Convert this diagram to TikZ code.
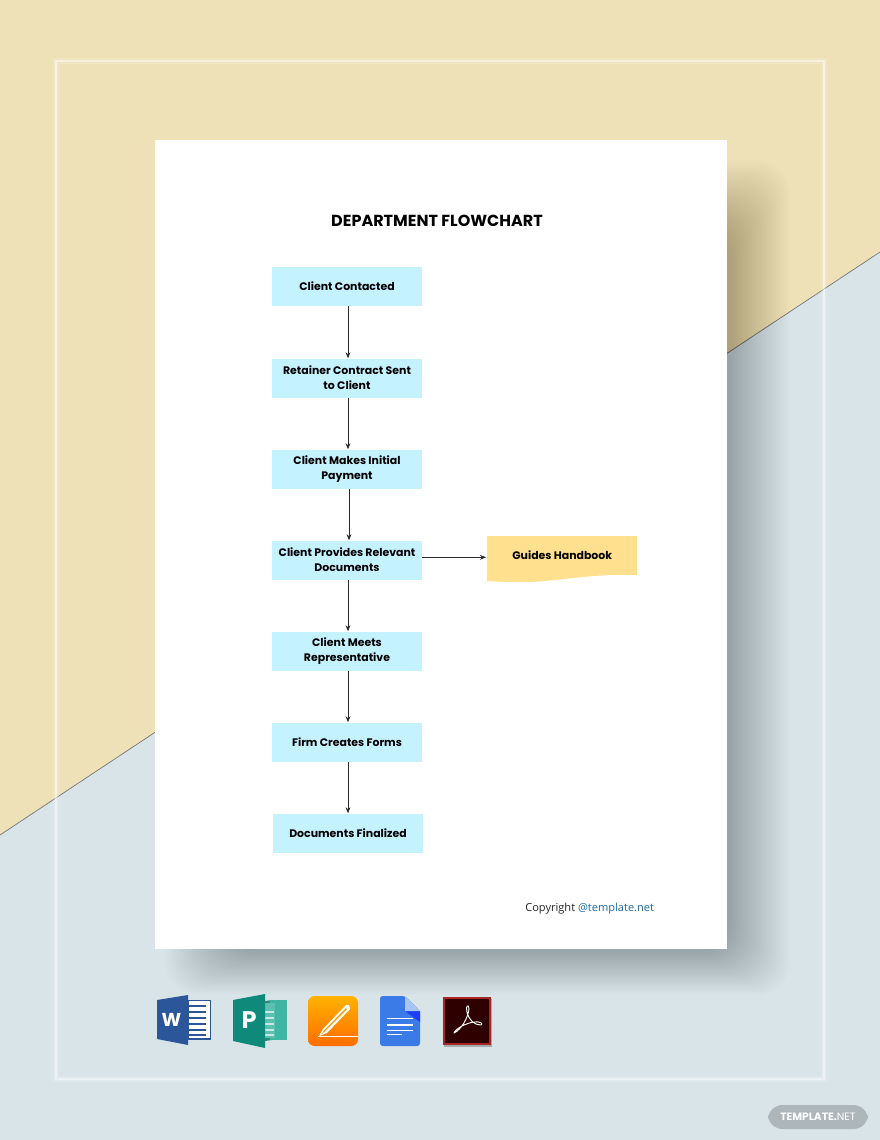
\documentclass[tikz,border=0pt]{standalone}
\usepackage{fontspec}
\setmainfont{Poppins}
\newfontfamily\copyfont{Open Sans}
\usetikzlibrary{arrows.meta}
\definecolor{tanbg}{HTML}{EEE1B8}
\definecolor{bluebg}{HTML}{D9E4E9}
\definecolor{stepblue}{HTML}{C5F2FF}
\definecolor{noteyellow}{HTML}{FFE08F}
\definecolor{arrowgrey}{HTML}{2B2B2B}
\definecolor{wordblue}{HTML}{2B579A}
\definecolor{pubteal}{HTML}{0F8A7A}
\definecolor{publight}{HTML}{3FB5A3}
\definecolor{docblue}{HTML}{3B7BE8}
\tikzset{
  stepbox/.style={fill=stepblue,draw=none,minimum width=112.5pt,minimum height=29.25pt,inner sep=0pt,align=center,
    font=\fontsize{8.2pt}{11.4pt}\selectfont\bfseries,text=black},
  flowarrow/.style={draw=arrowgrey,line width=0.55pt,-{Stealth[length=4.5pt,width=3.6pt]}},
  iconline/.style={line width=1.1pt,draw=white},
}
\begin{document}
\begin{tikzpicture}[x=0.75pt,y=-0.75pt]
\useasboundingbox (0,0) rectangle (880,1140);
\begin{scope}
\clip (0,0) rectangle (880,1140);
% background
\fill[bluebg] (0,0) rectangle (880,1140);
\fill[tanbg] (0,0) -- (880,0) -- (880,252) -- (0,835) -- cycle;
\draw[black!55,line width=0.5pt] (0,835) -- (880,252);
% soft shadow of the page
\foreach \i in {0,...,31}{
  \fill[black,opacity=0.0072,rounded corners=24pt]
    ({165+\i*2},{160+\i*2.2}) rectangle ({790-\i*1.9},{995-\i*1.4});
}
% frame
\draw[white,opacity=0.18,line width=4.2pt] (56,61) rectangle (824,1079);
\draw[white,opacity=0.45,line width=2.2pt] (56,61) rectangle (824,1079);
% page
\fill[white] (155,140) rectangle (727,949);
\end{scope}
% title
\node[font=\fontsize{12pt}{15pt}\selectfont\bfseries,text=black,inner sep=0pt] (title) at (437,220.5) {DEPARTMENT FLOWCHART};
% steps
\node[stepbox] (s1) at (347,286.5) {Client Contacted};
\node[stepbox] (s2) at (347,378) {Retainer Contract Sent\\to Client};
\node[stepbox] (s3) at (347,469) {Client Makes Initial\\Payment};
\node[stepbox] (s4) at (347,560) {Client Provides Relevant\\Documents};
\node[stepbox] (s5) at (347,651) {Client Meets\\Representative};
\node[stepbox] (s6) at (347,742) {Firm Creates Forms};
\node[stepbox] (s7) at (348,833) {Documents Finalized};
% note
\fill[noteyellow] (487,536) -- (637,536) -- (637,575)
  .. controls (600,574) and (575,578) .. (545,581)
  .. controls (525,583) and (505,582) .. (487,581) -- cycle;
\node[font=\fontsize{8.2pt}{11pt}\selectfont\bfseries,text=black,minimum width=112.5pt,minimum height=30pt,inner sep=0pt,
  anchor=west] (note) at (487,555) {Guides Handbook};
% connectors
\draw[flowarrow] ([xshift=0.75pt]s1.south) -- ([xshift=0.75pt]s2.north);
\draw[flowarrow] ([xshift=0.75pt]s2.south) -- ([xshift=0.75pt]s3.north);
\draw[flowarrow] ([xshift=1.5pt]s3.south) -- ([xshift=1.5pt]s4.north);
\draw[flowarrow] ([xshift=0.75pt]s4.south) -- ([xshift=0.75pt]s5.north);
\draw[flowarrow] ([xshift=0.75pt]s5.south) -- ([xshift=0.75pt]s6.north);
\draw[flowarrow] ([xshift=0.75pt]s6.south) -- (s7.north);
\draw[flowarrow,shorten >=0.75pt] ([yshift=2pt]s4.east) -- ([yshift=-1.75pt]note.west);
% copyright
\node[font=\copyfont\fontsize{8.3pt}{10pt}\selectfont,inner sep=0pt,anchor=west,text=black!85] (copy) at (525,909)
  {Copyright \textcolor[HTML]{1E6BA8}{@template.net}};
% Word icon
\draw[wordblue,fill=white,line width=1pt] (188,1000.5) rectangle (210.5,1039);
\foreach \y in {1006,1012,1018,1024,1030,1035}{\draw[wordblue,line width=1.2pt] (188,\y) -- (206,\y);}
\fill[wordblue] (157,1000) -- (188,995) -- (188,1045) -- (157,1039) -- cycle;
\node[font=\fontsize{14pt}{14pt}\selectfont\bfseries,text=white,inner sep=0pt] (wicon) at (171.5,1020) {W};
% Publisher icon
\fill[publight!75!black] (265,1001) -- (272,1000) -- (272,1040) -- (265,1041) -- cycle;
\fill[publight] (270,1000) -- (287,1000) -- (287,1040) -- (270,1040) -- cycle;
\fill[publight!85!white] (258,1003) rectangle (275,1038);
\foreach \y in {1012,1018,1024,1030,1035}{\draw[white,opacity=0.65,line width=2.2pt] (265,\y) -- (274,\y);}
\fill[pubteal] (233,1000) -- (265,994) -- (265,1048) -- (233,1041) -- cycle;
\node[font=\fontsize{18pt}{18pt}\selectfont\bfseries,text=white,inner sep=0pt] (picon) at (249,1020) {P};
% Pages icon
\shade[top color=orange!60!yellow,bottom color=orange!85!red,rounded corners=5pt] (308,996) rectangle (358,1046);
\draw[white,line width=0.9pt] (318,1036.5) -- (358,1036.5);
\fill[white] (319,1036) -- (323,1029) -- (346,1005) .. controls (349,1004) and (350,1006) .. (350,1009) -- (327,1033) -- cycle;
\fill[orange!80!yellow] (322,1034) -- (325,1031) -- (347,1009) -- (346,1008) -- (323.5,1031) -- cycle;
% Docs icon
\fill[docblue,rounded corners=2pt] (380,996) -- (405,996) -- (420,1011) -- (420,1046) -- (380,1046) -- cycle;
\fill[blue!50!docblue] (405,1011) -- (420,1011) -- (420,1022) -- cycle;
\fill[docblue!45!white] (405,996) -- (420,1011) -- (405,1011) -- cycle;
\foreach \y/\e in {1018.5/413,1025/413,1030.5/413,1034.5/402}{\draw[iconline] (387,\y) -- (\e,\y);}
% Acrobat icon
\fill[black,opacity=0.25] (444,999) rectangle (492,1047);
\draw[red!60!black!85!white,fill=black!82!red,line width=2pt] (444,998) rectangle (490,1044);
\draw[white,line width=0.7pt,line join=round]
  (454,1033) .. controls (461,1030) and (468,1018) .. (469,1009)
  .. controls (469,1003) and (465,1006) .. (467,1012)
  .. controls (469,1020) and (474,1025) .. (481,1025)
  .. controls (484,1024) and (480,1021) .. (474,1022)
  .. controls (466,1023) and (455,1029) .. (454,1033) -- cycle;
% watermark
\fill[black!50!bluebg,opacity=0.4,rounded corners=11pt] (768,1105) rectangle (868,1129);
\node[font=\fontsize{8pt}{8pt}\selectfont\bfseries,text=white,inner sep=0pt] (mark) at (818,1117) {TEMPLATE.\textmd{NET}};
\end{tikzpicture}
\end{document}
